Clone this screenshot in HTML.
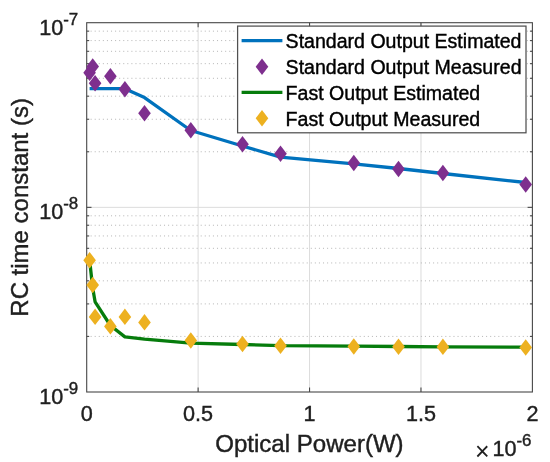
<!DOCTYPE html>
<html lang="en"><head><meta charset="utf-8"><title>RC time constant vs Optical Power</title>
<style>html,body{margin:0;padding:0;background:#fff}body{width:550px;height:462px;overflow:hidden}svg{display:block}text{font-family:"Liberation Sans",Arial,Helvetica,sans-serif;fill:#202020;stroke:#202020;stroke-width:0.4px}</style></head><body>
<svg width="550" height="462" viewBox="0 0 550 462">
<rect width="550" height="462" fill="#fff"/>
<g stroke="#dcdcdc" stroke-width="1" fill="none">
<line x1="198.12" y1="22.7" x2="198.12" y2="392.0"/>
<line x1="309.55" y1="22.7" x2="309.55" y2="392.0"/>
<line x1="420.97" y1="22.7" x2="420.97" y2="392.0"/>
<line x1="86.7" y1="207.35" x2="532.4" y2="207.35"/>
</g>
<g stroke="#b8b8b8" stroke-width="1" stroke-dasharray="1.05 3.027" fill="none">
<line x1="90.60" y1="151.76" x2="532.4" y2="151.76"/>
<line x1="90.60" y1="119.25" x2="532.4" y2="119.25"/>
<line x1="90.60" y1="96.18" x2="532.4" y2="96.18"/>
<line x1="90.60" y1="78.29" x2="532.4" y2="78.29"/>
<line x1="90.60" y1="63.66" x2="532.4" y2="63.66"/>
<line x1="90.60" y1="51.30" x2="532.4" y2="51.30"/>
<line x1="90.60" y1="40.59" x2="532.4" y2="40.59"/>
<line x1="90.60" y1="31.15" x2="532.4" y2="31.15"/>
<line x1="90.60" y1="336.41" x2="532.4" y2="336.41"/>
<line x1="90.60" y1="303.90" x2="532.4" y2="303.90"/>
<line x1="90.60" y1="280.83" x2="532.4" y2="280.83"/>
<line x1="90.60" y1="262.94" x2="532.4" y2="262.94"/>
<line x1="90.60" y1="248.31" x2="532.4" y2="248.31"/>
<line x1="90.60" y1="235.95" x2="532.4" y2="235.95"/>
<line x1="90.60" y1="225.24" x2="532.4" y2="225.24"/>
<line x1="90.60" y1="215.80" x2="532.4" y2="215.80"/>
</g>
<g stroke="#484848" stroke-width="1.1" fill="none">
<rect x="86.7" y="22.7" width="445.70" height="369.30"/>
<line x1="198.12" y1="392.0" x2="198.12" y2="387.4"/><line x1="198.12" y1="22.7" x2="198.12" y2="27.299999999999997"/>
<line x1="309.55" y1="392.0" x2="309.55" y2="387.4"/><line x1="309.55" y1="22.7" x2="309.55" y2="27.299999999999997"/>
<line x1="420.97" y1="392.0" x2="420.97" y2="387.4"/><line x1="420.97" y1="22.7" x2="420.97" y2="27.299999999999997"/>
<line x1="86.7" y1="207.35" x2="91.5" y2="207.35"/><line x1="532.4" y1="207.35" x2="527.6" y2="207.35"/>
<line x1="86.7" y1="151.76" x2="89.2" y2="151.76"/><line x1="532.4" y1="151.76" x2="529.9" y2="151.76"/>
<line x1="86.7" y1="119.25" x2="89.2" y2="119.25"/><line x1="532.4" y1="119.25" x2="529.9" y2="119.25"/>
<line x1="86.7" y1="96.18" x2="89.2" y2="96.18"/><line x1="532.4" y1="96.18" x2="529.9" y2="96.18"/>
<line x1="86.7" y1="78.29" x2="89.2" y2="78.29"/><line x1="532.4" y1="78.29" x2="529.9" y2="78.29"/>
<line x1="86.7" y1="63.66" x2="89.2" y2="63.66"/><line x1="532.4" y1="63.66" x2="529.9" y2="63.66"/>
<line x1="86.7" y1="51.30" x2="89.2" y2="51.30"/><line x1="532.4" y1="51.30" x2="529.9" y2="51.30"/>
<line x1="86.7" y1="40.59" x2="89.2" y2="40.59"/><line x1="532.4" y1="40.59" x2="529.9" y2="40.59"/>
<line x1="86.7" y1="31.15" x2="89.2" y2="31.15"/><line x1="532.4" y1="31.15" x2="529.9" y2="31.15"/>
<line x1="86.7" y1="336.41" x2="89.2" y2="336.41"/><line x1="532.4" y1="336.41" x2="529.9" y2="336.41"/>
<line x1="86.7" y1="303.90" x2="89.2" y2="303.90"/><line x1="532.4" y1="303.90" x2="529.9" y2="303.90"/>
<line x1="86.7" y1="280.83" x2="89.2" y2="280.83"/><line x1="532.4" y1="280.83" x2="529.9" y2="280.83"/>
<line x1="86.7" y1="262.94" x2="89.2" y2="262.94"/><line x1="532.4" y1="262.94" x2="529.9" y2="262.94"/>
<line x1="86.7" y1="248.31" x2="89.2" y2="248.31"/><line x1="532.4" y1="248.31" x2="529.9" y2="248.31"/>
<line x1="86.7" y1="235.95" x2="89.2" y2="235.95"/><line x1="532.4" y1="235.95" x2="529.9" y2="235.95"/>
<line x1="86.7" y1="225.24" x2="89.2" y2="225.24"/><line x1="532.4" y1="225.24" x2="529.9" y2="225.24"/>
<line x1="86.7" y1="215.80" x2="89.2" y2="215.80"/><line x1="532.4" y1="215.80" x2="529.9" y2="215.80"/>
</g>
<path d="M89.6,88.7 L92.7,88.7 L95.1,88.7 L110.4,88.7 L124.9,88.7 L144.5,97.6 L190.8,130.5 L242.5,146.0 L280.5,157.1 L353.8,163.8 L398.5,168.5 L442.9,173.5 L525.7,182.5" fill="none" stroke="#0072BD" stroke-width="3.3" stroke-linejoin="round"/>
<g><polygon points="89.6,64.5 95.9,72.7 89.6,81.0 83.3,72.7" fill="#7E2F8E"/><polygon points="92.7,58.2 99.0,66.5 92.7,74.8 86.4,66.5" fill="#7E2F8E"/><polygon points="95.1,75.0 101.4,83.3 95.1,91.5 88.8,83.3" fill="#7E2F8E"/><polygon points="110.4,68.0 116.7,76.3 110.4,84.5 104.1,76.3" fill="#7E2F8E"/><polygon points="124.9,81.0 131.2,89.3 124.9,97.5 118.6,89.3" fill="#7E2F8E"/><polygon points="144.5,105.0 150.8,113.3 144.5,121.5 138.2,113.3" fill="#7E2F8E"/><polygon points="190.8,122.1 197.1,130.3 190.8,138.6 184.5,130.3" fill="#7E2F8E"/><polygon points="242.5,135.9 248.8,144.2 242.5,152.4 236.2,144.2" fill="#7E2F8E"/><polygon points="280.5,145.6 286.8,153.8 280.5,162.1 274.2,153.8" fill="#7E2F8E"/><polygon points="353.8,154.8 360.1,163.1 353.8,171.3 347.5,163.1" fill="#7E2F8E"/><polygon points="398.5,160.8 404.8,169.0 398.5,177.2 392.2,169.0" fill="#7E2F8E"/><polygon points="442.9,164.8 449.2,173.0 442.9,181.2 436.6,173.0" fill="#7E2F8E"/><polygon points="525.7,176.2 532.0,184.4 525.7,192.7 519.4,184.4" fill="#7E2F8E"/></g>
<path d="M89.6,260.0 L92.7,288.0 L95.1,301.8 L110.4,325.5 L124.9,336.9 L144.5,339.1 L190.8,343.1 L242.5,344.5 L280.5,345.7 L353.8,346.2 L398.5,346.5 L442.9,346.8 L525.7,347.1" fill="none" stroke="#067C0C" stroke-width="3.3" stroke-linejoin="round"/>
<g><polygon points="89.6,251.9 95.9,260.2 89.6,268.4 83.3,260.2" fill="#EDB120"/><polygon points="92.7,276.8 99.0,285.0 92.7,293.2 86.4,285.0" fill="#EDB120"/><polygon points="95.1,308.6 101.4,316.9 95.1,325.1 88.8,316.9" fill="#EDB120"/><polygon points="110.4,318.1 116.7,326.4 110.4,334.6 104.1,326.4" fill="#EDB120"/><polygon points="124.9,308.6 131.2,316.9 124.9,325.1 118.6,316.9" fill="#EDB120"/><polygon points="144.5,314.1 150.8,322.4 144.5,330.6 138.2,322.4" fill="#EDB120"/><polygon points="190.8,332.2 197.1,340.5 190.8,348.8 184.5,340.5" fill="#EDB120"/><polygon points="242.5,335.8 248.8,344.0 242.5,352.2 236.2,344.0" fill="#EDB120"/><polygon points="280.5,337.4 286.8,345.7 280.5,353.9 274.2,345.7" fill="#EDB120"/><polygon points="353.8,338.2 360.1,346.5 353.8,354.8 347.5,346.5" fill="#EDB120"/><polygon points="398.5,338.4 404.8,346.7 398.5,354.9 392.2,346.7" fill="#EDB120"/><polygon points="442.9,338.6 449.2,346.9 442.9,355.1 436.6,346.9" fill="#EDB120"/><polygon points="525.7,339.2 532.0,347.5 525.7,355.8 519.4,347.5" fill="#EDB120"/></g>
<rect x="237.6" y="26.1" width="288.4" height="106.7" fill="#fff" stroke="#505050" stroke-width="1.25"/>
<line x1="241.6" y1="40.6" x2="282.4" y2="40.6" stroke="#0072BD" stroke-width="3.3"/>
<polygon points="262.0,58.5 268.3,66.8 262.0,75.0 255.7,66.8" fill="#7E2F8E"/>
<line x1="241.6" y1="92.4" x2="282.4" y2="92.4" stroke="#067C0C" stroke-width="3.3"/>
<polygon points="262.0,110.0 268.3,118.3 262.0,126.5 255.7,118.3" fill="#EDB120"/>
<text transform="translate(285.6,47.8) scale(1.014,1)" font-size="19.3" style="fill:#000;stroke:#000">Standard Output Estimated</text>
<text transform="translate(285.6,73.9) scale(1.014,1)" font-size="19.3" style="fill:#000;stroke:#000">Standard Output Measured</text>
<text transform="translate(285.6,100.0) scale(1.014,1)" font-size="19.3" style="fill:#000;stroke:#000">Fast Output Estimated</text>
<text transform="translate(285.6,125.9) scale(1.014,1)" font-size="19.3" style="fill:#000;stroke:#000">Fast Output Measured</text>
<text transform="translate(78.2,34.5) scale(1.0,1)" font-size="21.6" text-anchor="end">10<tspan font-size="16.9" dy="-9.8">-7</tspan></text>
<text transform="translate(78.2,219.2) scale(1.0,1)" font-size="21.6" text-anchor="end">10<tspan font-size="16.9" dy="-9.8">-8</tspan></text>
<text transform="translate(78.2,403.8) scale(1.0,1)" font-size="21.6" text-anchor="end">10<tspan font-size="16.9" dy="-9.8">-9</tspan></text>
<text transform="translate(86.7,420.5) scale(1.0,1)" font-size="21.6" text-anchor="middle">0</text>
<text transform="translate(198.1,420.5) scale(1.0,1)" font-size="21.6" text-anchor="middle">0.5</text>
<text transform="translate(309.6,420.5) scale(1.0,1)" font-size="21.6" text-anchor="middle">1</text>
<text transform="translate(421.0,420.5) scale(1.0,1)" font-size="21.6" text-anchor="middle">1.5</text>
<text transform="translate(532.4,420.5) scale(1.0,1)" font-size="21.6" text-anchor="middle">2</text>
<text x="475.0" y="459.5" font-size="25" style="stroke:none">×</text>
<text x="492.4" y="455.8" font-size="21.6">10<tspan font-size="16.9" dy="-9.8">-6</tspan></text>
<text transform="translate(309.4,451.8) scale(1.007,1)" font-size="23.9" text-anchor="middle">Optical Power(W)</text>
<text transform="translate(28.4,207.4) rotate(-90) scale(1.004,1)" font-size="23.9" text-anchor="middle">RC time constant (s)</text>
</svg></body></html>
